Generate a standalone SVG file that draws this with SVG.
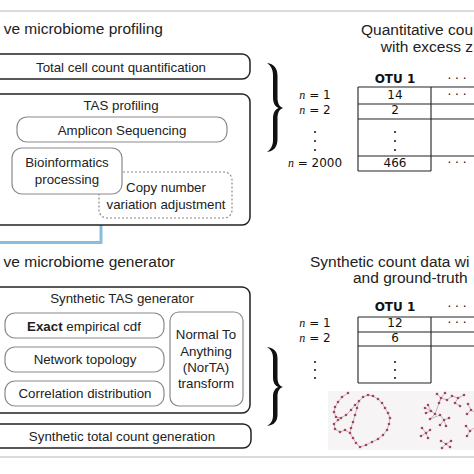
<svg xmlns="http://www.w3.org/2000/svg" width="474" height="474" viewBox="0 0 474 474">
<style>
.t{font-family:"Liberation Sans",Arial,sans-serif;fill:#222}
.title{font-size:15.5px}
.lbl{font-size:13.3px;text-anchor:middle}
.outer{fill:none;stroke:#222;stroke-width:1.5}
.inner{fill:#fff;stroke:#8a8a8a;stroke-width:1.2}
.dash{fill:#fff;stroke:#8a8a8a;stroke-width:1.2;stroke-dasharray:2 2}
.tab{font-family:"DejaVu Sans",sans-serif;font-size:12px;fill:#111;text-anchor:middle}
.math{font-family:"Liberation Serif","DejaVu Serif",serif;font-style:italic}
.grid{stroke:#222;stroke-width:1.1;fill:none}
.brace{fill:#111}
.dot{fill:#111}
.nd{fill:#a8435c}
.ed{fill:none;stroke:#9a8a90;stroke-width:0.6}
</style>
<defs>
<path id="brace" d="M0 0 C7 1 10.5 5 10.5 13 L10.5 34 C10.5 40 12 43.5 16 45 C12 46.5 10.5 50 10.5 56 L10.5 76 C10.5 84 7 88 0 89 C3.5 86.5 6 83 6 77 L6 56 C6 50 8 46.5 11.5 45 C8 43.5 6 40 6 34 L6 12 C6 6 3.5 2.5 0 0 Z"/>
</defs>
<rect width="474" height="474" fill="#fff"/>
<line x1="0" y1="11" x2="474" y2="11" stroke="#cfcfcf" stroke-width="1.5"/>
<line x1="0" y1="457" x2="474" y2="457" stroke="#cfcfcf" stroke-width="1.5"/>

<g id="connectors">
<path d="M-5 242.5 H101 V225" fill="none" stroke="#88bde0" stroke-width="3"/>
</g>

<g id="title-profiling"><text class="t title" x="163" y="34" text-anchor="end">ve microbiome profiling</text></g>
<g id="total-cell-count">
<rect class="outer" x="-20" y="54" width="270" height="25" rx="8"/>
<text class="t lbl" x="121" y="72">Total cell count quantification</text>
</g>
<g id="tas-profiling">
<rect class="outer" x="-20" y="94" width="270" height="131" rx="8"/>
<text class="t lbl" x="121" y="110">TAS profiling</text>
</g>
<g id="amplicon">
<rect class="inner" x="17" y="117" width="210" height="25" rx="10"/>
<text class="t lbl" x="122" y="135">Amplicon Sequencing</text>
</g>
<g id="copy-number">
<rect class="dash" x="99" y="172" width="133" height="46" rx="8"/>
<text class="t lbl" x="166" y="192">Copy number</text>
<text class="t lbl" x="166" y="209">variation adjustment</text>
</g>
<g id="bioinformatics">
<rect class="inner" x="12" y="148" width="110" height="46" rx="10"/>
<text class="t lbl" x="67" y="167">Bioinformatics</text>
<text class="t lbl" x="67" y="184">processing</text>
</g>

<g id="title-generator"><text class="t title" x="175" y="267" text-anchor="end">ve microbiome generator</text></g>
<g id="synthetic-tas">
<rect class="outer" x="-20" y="287" width="270" height="126" rx="8"/>
<text class="t lbl" x="122" y="303">Synthetic TAS generator</text>
</g>
<g id="exact-cdf">
<rect class="inner" x="5" y="313" width="159" height="25" rx="10"/>
<text class="t lbl" x="84" y="331"><tspan font-weight="bold">Exact</tspan> empirical cdf</text>
</g>
<g id="network-topology">
<rect class="inner" x="5" y="347" width="159" height="25" rx="10"/>
<text class="t lbl" x="85" y="364">Network topology</text>
</g>
<g id="correlation">
<rect class="inner" x="5" y="381" width="159" height="25" rx="10"/>
<text class="t lbl" x="85" y="398">Correlation distribution</text>
</g>
<g id="norta">
<rect class="inner" x="170" y="312" width="73" height="94" rx="9"/>
<text class="t lbl" x="206" y="339">Normal To</text>
<text class="t lbl" x="206" y="355.5">Anything</text>
<text class="t lbl" x="206" y="372">(NorTA)</text>
<text class="t lbl" x="206" y="388">transform</text>
</g>
<g id="synthetic-total">
<rect class="outer" x="-20" y="424" width="271" height="24" rx="8"/>
<text class="t lbl" x="122" y="441">Synthetic total count generation</text>
</g>

<use href="#brace" class="brace" x="267" y="63"/>
<use href="#brace" class="brace" transform="translate(267 347) scale(1 0.888)"/>

<g id="quantitative-table">
<text class="t title" x="473" y="35" text-anchor="end">Quantitative cou</text>
<text class="t title" x="473" y="52" text-anchor="end">with excess z</text>
<text class="tab" x="395" y="83" font-weight="bold">OTU 1</text>
<text class="tab" x="457" y="83">· · ·</text>
<path class="grid" d="M358 87 H474 M358 104 H474 M358 119 H474 M358 156 H474 M358 171 H431 M358 87 V171 M431 87 V171"/>
<text class="tab" x="395" y="99">14</text>
<text class="tab" x="457" y="99">· · ·</text>
<text class="tab" x="395" y="114">2</text>
<text class="tab" x="395" y="167">466</text>
<text class="tab" x="457" y="167">· · ·</text>
<circle class="dot" cx="395" cy="132" r="1"/><circle class="dot" cx="395" cy="141" r="1"/><circle class="dot" cx="395" cy="150" r="1"/>
<text class="tab" x="315" y="99"><tspan class="math">n</tspan> = 1</text>
<text class="tab" x="315" y="114"><tspan class="math">n</tspan> = 2</text>
<circle class="dot" cx="315" cy="132" r="1"/><circle class="dot" cx="315" cy="141" r="1"/><circle class="dot" cx="315" cy="150" r="1"/>
<text class="tab" x="315" y="167"><tspan class="math">n</tspan> = 2000</text>
</g>

<g id="synthetic-table">
<text class="t title" x="310" y="267">Synthetic count data wi</text>
<text class="t title" x="353" y="283">and ground-truth</text>
<text class="tab" x="395" y="311" font-weight="bold">OTU 1</text>
<text class="tab" x="457" y="311">· · ·</text>
<path class="grid" d="M358 317 H474 M358 332 H474 M358 346 H474 M358 383 H431 M358 317 V383 M431 317 V383"/>
<text class="tab" x="395" y="327">12</text>
<text class="tab" x="457" y="327">· · ·</text>
<text class="tab" x="395" y="342">6</text>
<circle class="dot" cx="395" cy="362" r="1"/><circle class="dot" cx="395" cy="370" r="1"/><circle class="dot" cx="395" cy="378" r="1"/>
<text class="tab" x="315" y="327"><tspan class="math">n</tspan> = 1</text>
<text class="tab" x="315" y="342"><tspan class="math">n</tspan> = 2</text>
<circle class="dot" cx="315" cy="362" r="1"/><circle class="dot" cx="315" cy="370" r="1"/><circle class="dot" cx="315" cy="378" r="1"/>
</g>

<g id="networks">
<rect x="328" y="391" width="146" height="59" fill="#f6f4f5"/>
<path class="ed" d="M348 393 L342 397 L338 402 L335 407 L334 412 L336 417 L341 418 L346 415 L351 410 L355 405 L359 401 L363 397 L368 395 L373 396 L378 399 L382 403 L385 408 L388 413 L390 418 L389 424 L387 430 L383 435 L378 439 L372 442 L366 445 L360 447 L356 443 L353 438 L350 433 L345 430 L340 432 L335 429 L334 424 L338 420 L341 418 M359 401 L357 408 L355 415 L353 422 L351 428 L350 433"/>
<g class="nd">
<circle cx="348" cy="393" r="1.3"/><circle cx="342" cy="397" r="1.3"/><circle cx="338" cy="402" r="1.3"/><circle cx="335" cy="407" r="1.3"/><circle cx="334" cy="412" r="1.3"/><circle cx="336" cy="417" r="1.3"/><circle cx="341" cy="418" r="1.3"/><circle cx="346" cy="415" r="1.3"/><circle cx="351" cy="410" r="1.3"/><circle cx="355" cy="405" r="1.3"/><circle cx="359" cy="401" r="1.3"/><circle cx="363" cy="397" r="1.3"/><circle cx="368" cy="395" r="1.3"/><circle cx="373" cy="396" r="1.3"/><circle cx="378" cy="399" r="1.3"/><circle cx="382" cy="403" r="1.3"/><circle cx="385" cy="408" r="1.3"/><circle cx="388" cy="413" r="1.3"/><circle cx="390" cy="418" r="1.3"/><circle cx="389" cy="424" r="1.3"/><circle cx="387" cy="430" r="1.3"/><circle cx="383" cy="435" r="1.3"/><circle cx="378" cy="439" r="1.3"/><circle cx="372" cy="442" r="1.3"/><circle cx="366" cy="445" r="1.3"/><circle cx="360" cy="447" r="1.3"/><circle cx="356" cy="443" r="1.3"/><circle cx="353" cy="438" r="1.3"/><circle cx="350" cy="433" r="1.3"/><circle cx="345" cy="430" r="1.3"/><circle cx="340" cy="432" r="1.3"/><circle cx="335" cy="429" r="1.3"/><circle cx="334" cy="424" r="1.3"/><circle cx="338" cy="420" r="1.3"/><circle cx="357" cy="408" r="1.3"/><circle cx="355" cy="415" r="1.3"/><circle cx="353" cy="422" r="1.3"/><circle cx="351" cy="428" r="1.3"/>
</g>
<path class="ed" d="M428 405 L431 411 L426 413 M431 411 L435 414 L430 419 M431 411 L425 408 M437 394 L441 398 L445 393 M441 398 L439 403 M441 398 L447 400 L452 396 L458 398 L455 403 L460 406 M458 398 L464 395 M440 415 L444 420 L440 425 M444 420 L449 418 M444 420 L446 426 M468 404 L471 410 L467 414 M471 410 L474 412 M422 428 L426 433 L421 436 M426 433 L430 430 M426 433 L428 438 M466 426 L470 431 L467 436 M470 431 L474 428 M441 441 L446 444 L442 448 M446 444 L451 441 M446 444 L450 447 M430 419 L440 415 M435 414 L441 398"/>
<g class="nd">
<circle cx="428" cy="405" r="1.3"/><circle cx="431" cy="411" r="1.3"/><circle cx="426" cy="413" r="1.3"/><circle cx="435" cy="414" r="1.3"/><circle cx="430" cy="419" r="1.3"/><circle cx="425" cy="408" r="1.3"/>
<circle cx="437" cy="394" r="1.3"/><circle cx="441" cy="398" r="1.3"/><circle cx="445" cy="393" r="1.3"/><circle cx="439" cy="403" r="1.3"/>
<circle cx="447" cy="400" r="1.3"/><circle cx="452" cy="396" r="1.3"/><circle cx="458" cy="398" r="1.3"/><circle cx="455" cy="403" r="1.3"/><circle cx="460" cy="406" r="1.3"/><circle cx="464" cy="395" r="1.3"/>
<circle cx="440" cy="415" r="1.3"/><circle cx="444" cy="420" r="1.3"/><circle cx="440" cy="425" r="1.3"/><circle cx="449" cy="418" r="1.3"/><circle cx="446" cy="426" r="1.3"/>
<circle cx="468" cy="404" r="1.3"/><circle cx="471" cy="410" r="1.3"/><circle cx="467" cy="414" r="1.3"/>
<circle cx="422" cy="428" r="1.3"/><circle cx="426" cy="433" r="1.3"/><circle cx="421" cy="436" r="1.3"/><circle cx="430" cy="430" r="1.3"/><circle cx="428" cy="438" r="1.3"/>
<circle cx="466" cy="426" r="1.3"/><circle cx="470" cy="431" r="1.3"/><circle cx="467" cy="436" r="1.3"/>
<circle cx="441" cy="441" r="1.3"/><circle cx="446" cy="444" r="1.3"/><circle cx="442" cy="448" r="1.3"/><circle cx="451" cy="441" r="1.3"/><circle cx="450" cy="447" r="1.3"/>
</g>
</g>
</svg>
